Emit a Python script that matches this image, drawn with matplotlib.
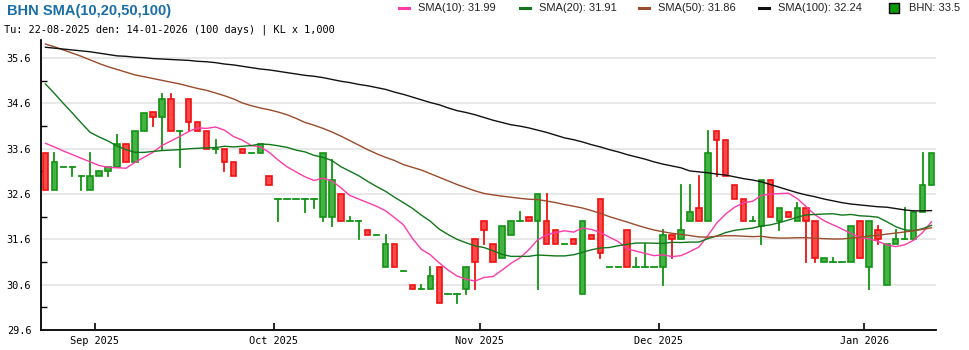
import pandas as pd
import numpy as np
import matplotlib.pyplot as plt
from matplotlib.patches import Rectangle
from matplotlib.lines import Line2D

# BHN, gia x 1,000 dong, 100 phien
holidays = ['2025-09-01', '2025-09-02', '2026-01-01', '2026-01-02']
dates = pd.bdate_range('2025-08-22', '2026-01-14')
dates = dates[~dates.isin(pd.to_datetime(holidays))]

opens = [33.5, 32.7, 33.2, 33.2, 33.0, 32.7, 33.0, 33.1, 33.2, 33.7,
         33.3, 34.0, 34.4, 34.3, 34.7, 34.0, 34.7, 34.2, 34.0, 33.6,
         33.6, 33.3, 33.6, 33.5, 33.5, 33.0, 32.5, 32.5, 32.5, 32.5,
         32.5, 32.1, 32.1, 32.6, 32.0, 32.0, 31.8, 31.7, 31.0, 31.5,
         30.9, 30.6, 30.5, 30.5, 31.0, 30.4, 30.4, 30.5, 31.6, 32.0,
         31.5, 31.2, 31.7, 32.0, 32.1, 32.0, 32.0, 31.8, 31.5, 31.6,
         30.4, 31.7, 32.5, 31.0, 31.0, 31.8, 31.0, 31.0, 31.0, 31.0,
         31.7, 31.6, 32.0, 32.3, 32.0, 34.0, 33.8, 32.8, 32.5, 32.0,
         31.9, 32.9, 32.0, 32.2, 32.0, 32.3, 32.0, 31.1, 31.1, 31.1,
         31.1, 32.0, 31.0, 31.8, 30.6, 31.5, 31.6, 31.6, 32.2, 32.8]
highs = [33.5, 33.5, 33.2, 33.2, 33.0, 33.5, 33.1, 33.2, 33.9, 33.7,
         34.0, 34.4, 34.4, 34.8, 34.8, 34.0, 34.7, 34.2, 34.0, 33.8,
         33.6, 33.3, 33.6, 33.5, 33.7, 33.0, 32.5, 32.5, 32.5, 32.5,
         32.5, 33.5, 33.35, 32.6, 32.1, 32.0, 31.8, 31.7, 31.7, 31.5,
         30.9, 30.6, 30.6, 31.0, 31.0, 30.4, 30.4, 31.0, 31.6, 32.0,
         31.5, 31.9, 32.0, 32.2, 32.1, 32.6, 32.6, 31.8, 31.5, 31.6,
         32.0, 31.7, 32.5, 31.0, 31.0, 31.8, 31.2, 31.5, 31.0, 31.8,
         31.7, 32.8, 32.8, 33.0, 34.0, 34.0, 33.8, 32.8, 32.5, 32.1,
         32.9, 32.9, 32.3, 32.2, 32.4, 32.3, 32.0, 31.2, 31.2, 31.1,
         31.9, 32.0, 32.0, 31.9, 31.5, 31.8, 32.3, 32.2, 33.5, 33.5]
lows = [32.7, 32.7, 33.2, 33.0, 32.7, 32.7, 33.0, 33.0, 33.2, 33.3,
        33.3, 34.0, 34.1, 33.6, 34.0, 33.2, 34.0, 34.0, 33.6, 33.5,
        33.1, 33.0, 33.5, 33.5, 33.5, 32.8, 32.0, 32.5, 32.5, 32.2,
        32.3, 32.0, 31.9, 32.0, 32.0, 31.6, 31.7, 31.7, 31.0, 31.0,
        30.9, 30.5, 30.5, 30.5, 30.2, 30.4, 30.2, 30.4, 30.5, 31.5,
        31.1, 31.2, 31.7, 32.0, 32.0, 30.5, 31.5, 31.5, 31.5, 31.5,
        30.4, 31.6, 31.2, 31.0, 31.0, 31.0, 31.0, 31.0, 31.0, 30.6,
        31.2, 31.6, 32.0, 32.0, 32.0, 33.0, 33.0, 32.5, 32.0, 32.0,
        31.5, 32.1, 31.8, 32.1, 32.0, 31.1, 31.1, 31.1, 31.1, 31.1,
        31.1, 31.2, 30.5, 31.5, 30.6, 31.5, 31.6, 31.6, 32.2, 32.8]
closes = [32.7, 33.3, 33.2, 33.2, 33.0, 33.0, 33.1, 33.2, 33.7, 33.3,
          34.0, 34.4, 34.3, 34.7, 34.0, 34.0, 34.2, 34.0, 33.6, 33.6,
          33.3, 33.0, 33.5, 33.5, 33.7, 32.8, 32.5, 32.5, 32.5, 32.5,
          32.5, 33.5, 32.9, 32.0, 32.0, 32.0, 31.7, 31.7, 31.5, 31.0,
          30.9, 30.5, 30.5, 30.8, 30.2, 30.4, 30.4, 31.0, 31.1, 31.8,
          31.1, 31.9, 32.0, 32.0, 32.0, 32.6, 31.5, 31.5, 31.5, 31.5,
          32.0, 31.6, 31.3, 31.0, 31.0, 31.0, 31.0, 31.0, 31.0, 31.7,
          31.6, 31.8, 32.2, 32.0, 33.5, 33.8, 33.0, 32.5, 32.0, 32.0,
          32.9, 32.1, 32.3, 32.1, 32.3, 32.0, 31.2, 31.2, 31.1, 31.1,
          31.9, 31.2, 32.0, 31.6, 31.5, 31.6, 31.6, 32.2, 32.8, 33.5]

# gia tri SMA o nhung phien dau (cua so lan ve truoc 22-08-2025)
sma10_head = [33.72, 33.64, 33.55, 33.47, 33.39, 33.31, 33.23, 33.19, 33.18]
sma20_head = [35.03, 34.82, 34.60, 34.39, 34.17, 33.96, 33.86, 33.77, 33.66, 33.58,
              33.52, 33.52, 33.54, 33.56, 33.57, 33.58, 33.60, 33.61, 33.62]
sma50_head = [35.91, 35.85, 35.78, 35.71, 35.64, 35.56, 35.48, 35.41, 35.35, 35.29,
              35.23, 35.19, 35.15, 35.11, 35.07, 35.03, 34.98, 34.93, 34.89, 34.83,
              34.77, 34.70, 34.61, 34.55, 34.50, 34.46, 34.41, 34.35, 34.27, 34.18,
              34.12, 34.05, 33.97, 33.88, 33.78, 33.68, 33.58, 33.49, 33.41, 33.34,
              33.25, 33.19, 33.13, 33.05, 32.97, 32.89, 32.81, 32.74, 32.67]
sma100_head = [35.84, 35.82, 35.80, 35.78, 35.76, 35.74, 35.71, 35.68, 35.65, 35.64,
               35.62, 35.61, 35.59, 35.58, 35.57, 35.56, 35.55, 35.53, 35.52, 35.50,
               35.47, 35.45, 35.42, 35.39, 35.36, 35.34, 35.31, 35.28, 35.25, 35.22,
               35.20, 35.17, 35.13, 35.09, 35.06, 35.02, 34.99, 34.95, 34.91, 34.85,
               34.80, 34.74, 34.68, 34.62, 34.57, 34.50, 34.44, 34.40, 34.35, 34.29,
               34.23, 34.18, 34.13, 34.10, 34.06, 34.01, 33.96, 33.90, 33.84, 33.80,
               33.75, 33.69, 33.64, 33.58, 33.53, 33.47, 33.42, 33.37, 33.31, 33.26,
               33.22, 33.18, 33.11, 33.09, 33.07, 33.04, 33.02, 32.98, 32.94, 32.91,
               32.87, 32.81, 32.75, 32.69, 32.63, 32.58, 32.54, 32.49, 32.45, 32.41,
               32.38, 32.36, 32.34, 32.32, 32.31, 32.28, 32.25, 32.23, 32.23]

sma_periods = [10, 20, 50, 100]
sma_heads = [sma10_head, sma20_head, sma50_head, sma100_head]
sma_colors = ['#ff3aa8', '#11771a', '#9a4b2c', '#111111']

up_fill, up_edge = '#44b244', '#139313'
down_fill, down_edge = '#ff4848', '#ee1111'


def sma(n, head):
    s = pd.Series(closes).rolling(n).mean()
    s.iloc[:n - 1] = head
    return s


def fmt2(v):
    # lam tron nua len, 2 chu so
    return '%.2f' % (np.floor(v * 100 + 0.5 + 1e-9) / 100)


fig = plt.figure(figsize=(9.7, 3.5), dpi=100)
ax = fig.add_axes([41 / 970, 20 / 350, 895 / 970, 290 / 350])

x = np.arange(len(closes))
w = 0.62
for i in x:
    o, h, l, c = opens[i], highs[i], lows[i], closes[i]
    if c >= o:
        fc, ec = up_fill, up_edge
    else:
        fc, ec = down_fill, down_edge
    if o == c:
        ax.plot([i - w / 2, i + w / 2], [o, o], color=ec, lw=1.3, zorder=3)
        ax.plot([i, i], [l, h], color=ec, lw=1.3, zorder=3)
    else:
        lo, hi = min(o, c), max(o, c)
        ax.plot([i, i], [hi, h], color=ec, lw=1.3, zorder=3)
        ax.plot([i, i], [l, lo], color=ec, lw=1.3, zorder=3)
        ax.add_patch(Rectangle((i - w / 2, lo), w, hi - lo, facecolor=fc,
                               edgecolor=ec, lw=1.2, zorder=4))

sma_lines = []
for n, head, col in zip(sma_periods, sma_heads, sma_colors):
    s = sma(n, head)
    sma_lines.append(s)
    ax.plot(x, s, color=col, lw=1.0, zorder=5)

ax.set_xlim(-0.5, len(closes) - 0.5)
ax.set_ylim(29.6, 36.0)

# truc tung
ax.set_yticks(np.arange(29.6, 35.7, 1.0))
ax.set_yticks(np.arange(30.1, 36.0, 1.0), minor=True)
ax.set_yticklabels(['%.1f' % v for v in np.arange(29.6, 35.7, 1.0)])
ax.grid(axis='y', color='#e8e8e8', lw=1.4, zorder=0)
ax.set_axisbelow(True)

# moc dau thang
months = pd.Series(dates.month)
starts = np.where(months.diff().fillna(0) != 0)[0]
ax.set_xticks(starts - 0.5)
ax.set_xticklabels([dates[k].strftime('%b %Y') for k in starts])

ax.tick_params(axis='both', which='both', direction='in', color='black',
               labelsize=7.4, labelfontfamily='DejaVu Sans Mono')
ax.tick_params(axis='y', which='major', length=0, pad=7)
ax.tick_params(axis='y', which='minor', length=4, width=1)
ax.tick_params(axis='x', length=5, width=1.2, pad=4)
for side in ['top', 'right']:
    ax.spines[side].set_visible(False)
for side in ['left', 'bottom']:
    ax.spines[side].set_linewidth(1.3)

fig.text(7 / 970, 1 - 11 / 350, 'BHN SMA(10,20,50,100)', color='#1a6ea8',
         fontsize=10.5, fontweight='bold', family='Liberation Sans', va='center')
fig.text(4 / 970, 1 - 30 / 350,
         'Tu: %s den: %s (%d days) | KL x 1,000' % (dates[0].strftime('%d-%m-%Y'),
                                                  dates[-1].strftime('%d-%m-%Y'), len(dates)),
         fontsize=7.4, family='DejaVu Sans Mono', va='center')

# chu thich
y_leg = 1 - 8 / 350
leg_x = [399, 520, 639, 759]
for lx, n, col, s in zip(leg_x, sma_periods, sma_colors, sma_lines):
    fig.add_artist(Line2D([lx / 970, (lx + 10) / 970], [y_leg, y_leg], color=col,
                          lw=2.2, transform=fig.transFigure))
    fig.text((lx + 19) / 970, y_leg, 'SMA(%d): %s' % (n, fmt2(s.iloc[-1])), fontsize=8,
             family='Liberation Sans', color='#222222', va='center')
fig.add_artist(Rectangle((889 / 970, 1 - 13 / 350), 10 / 970, 10 / 350, facecolor='#0a9a0a',
                         edgecolor='black', lw=1, transform=fig.transFigure))
fig.text(909 / 970, y_leg, 'BHN: %s' % closes[-1], fontsize=8, family='Liberation Sans',
         color='#222222', va='center')

fig.savefig('out.png', dpi=100)
